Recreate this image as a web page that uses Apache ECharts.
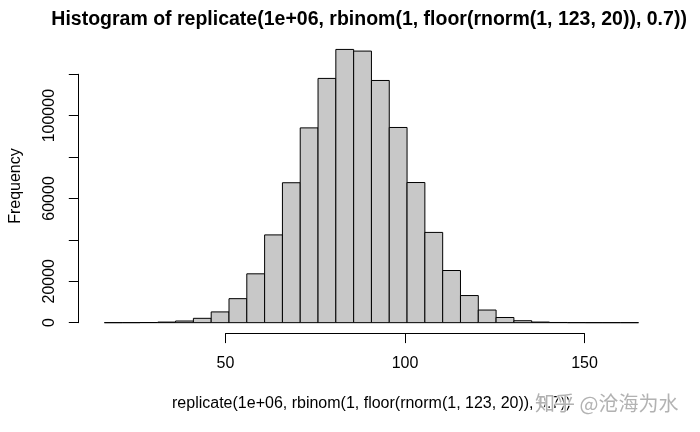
<!DOCTYPE html>
<html>
<head>
<meta charset="utf-8">
<script src="https://cdn.jsdelivr.net/npm/echarts@6/dist/echarts.min.js"></script>
<style>
html,body{margin:0;padding:0;background:#fff;}
#chart{width:700px;height:432px;}
</style>
</head>
<body>
<div id="chart"></div>
<script>
// ---- data ----
const binStarts = [15,20,25,30,35,40,45,50,55,60,65,70,75,80,85,90,95,100,105,110,115,120,125,130,135,140,145,150,155,160];
const binWidth = 5;
const counts = [5,20,80,280,800,2100,5200,11600,23600,42400,67600,94100,118000,132000,131200,117000,94300,67700,43600,25200,13100,6100,2500,950,300,90,25,6,2,1];
const xTicks = [50,100,150];
const yTicks = [0,20000,40000,60000,80000,100000,120000];
const yTickLabels = ['0','20000','60000','100000'];
const titleText = 'Histogram of replicate(1e+06, rbinom(1, floor(rnorm(1, 123, 20)), 0.7))';
const xTitle = 'replicate(1e+06, rbinom(1, floor(rnorm(1, 123, 20)), 0.7))';
const yTitle = 'Frequency';
const watermark = '知乎 @沧海为水';

// ---- layout (R-like plot region) ----
const PL = 78.3, PR = 659.9, PT = 38.5, PB = 333.6;
const bx0 = binStarts[0], bx1 = binStarts[binStarts.length-1] + binWidth;
const xr = bx1 - bx0;
const xlim = [bx0 - 0.04*xr, bx1 + 0.04*xr];
const maxC = Math.max.apply(null, counts);
const ylim = [-0.04*maxC, 1.04*maxC];
const px = v => PL + (v - xlim[0])/(xlim[1]-xlim[0])*(PR-PL);
const py = v => PB - (v - ylim[0])/(ylim[1]-ylim[0])*(PB-PT);

const FONT = '"Liberation Sans", Arial, Helvetica, sans-serif';
const histData = binStarts.map((s,i) => [s, s+binWidth, counts[i]]);

const xT0 = xTicks[0], xT1 = xTicks[xTicks.length-1];
const yT0 = yTicks[0], yT1 = yTicks[yTicks.length-1];

const chart = echarts.init(document.getElementById('chart'), null, {renderer:'canvas'});
const hidden = {axisLine:{show:false}, axisTick:{show:false}, axisLabel:{show:false}, splitLine:{show:false}};
const axisStyle = {
  axisLine:{show:true, lineStyle:{color:'#000', width:1}},
  axisTick:{show:true, inside:false, length:9.5, lineStyle:{color:'#000', width:1}},
  splitLine:{show:false}
};
chart.setOption({
  animation:false,
  backgroundColor:'#fff',
  grid:[
    {left:PL, top:PT, width:PR-PL, height:PB-PT, containLabel:false},
    {left:px(xT0), top:PT, width:px(xT1)-px(xT0), height:PB-PT, containLabel:false},
    {left:PL, top:py(yT1), width:PR-PL, height:py(yT0)-py(yT1), containLabel:false}
  ],
  xAxis:[
    Object.assign({gridIndex:0, type:'value', min:xlim[0], max:xlim[1],
      name:xTitle, nameLocation:'middle', nameGap:62,
      nameTextStyle:{fontFamily:FONT, fontSize:16, color:'#000'}}, hidden),
    Object.assign({gridIndex:1, type:'value', min:xT0, max:xT1, interval:xTicks[1]-xTicks[0],
      axisLabel:{show:true, margin:22, fontFamily:FONT, fontSize:16, color:'#000'}}, axisStyle),
    Object.assign({gridIndex:2, type:'value', min:0, max:1, show:false}, hidden)
  ],
  yAxis:[
    Object.assign({gridIndex:0, type:'value', min:ylim[0], max:ylim[1],
      name:yTitle, nameLocation:'middle', nameGap:59, nameRotate:90,
      nameTextStyle:{fontFamily:FONT, fontSize:16, color:'#000'}}, hidden),
    Object.assign({gridIndex:1, type:'value', min:0, max:1, show:false}, hidden),
    Object.assign({gridIndex:2, type:'value', min:yT0, max:yT1, interval:yTicks[1]-yTicks[0],
      axisLabel:{show:true, rotate:90, margin:21, fontFamily:FONT, fontSize:16, color:'#000',
        formatter: v => (yTickLabels.indexOf(String(v)) >= 0 ? String(v) : '')}}, axisStyle)
  ],
  graphic:[
    {type:'text', x:px((xlim[0]+xlim[1])/2), y:20, z:10,
      style:{text:titleText, fontFamily:FONT, fontSize:19.5, fontWeight:'bold', fill:'#000',
        textAlign:'center', textVerticalAlign:'middle', verticalAlign:'middle'}},
    {type:'text', x:535, y:403, z:100,
      style:{text:watermark, fontFamily:'"Noto Sans CJK SC", sans-serif', fontSize:20,
        fill:'rgba(170,170,170,0.9)', stroke:'rgba(255,255,255,0.8)', lineWidth:2,
        textVerticalAlign:'middle', verticalAlign:'middle'}}
  ],
  series:[{
    type:'custom', xAxisIndex:0, yAxisIndex:0, clip:false,
    data:histData,
    renderItem:function(params, api){
      const a = api.coord([api.value(0), api.value(2)]);
      const b = api.coord([api.value(1), 0]);
      return {type:'rect', shape:{x:a[0], y:a[1], width:b[0]-a[0], height:b[1]-a[1]},
        style:{fill:'#c8c8c8', stroke:'#000', lineWidth:1}};
    }
  }]
});
</script>
</body>
</html>
